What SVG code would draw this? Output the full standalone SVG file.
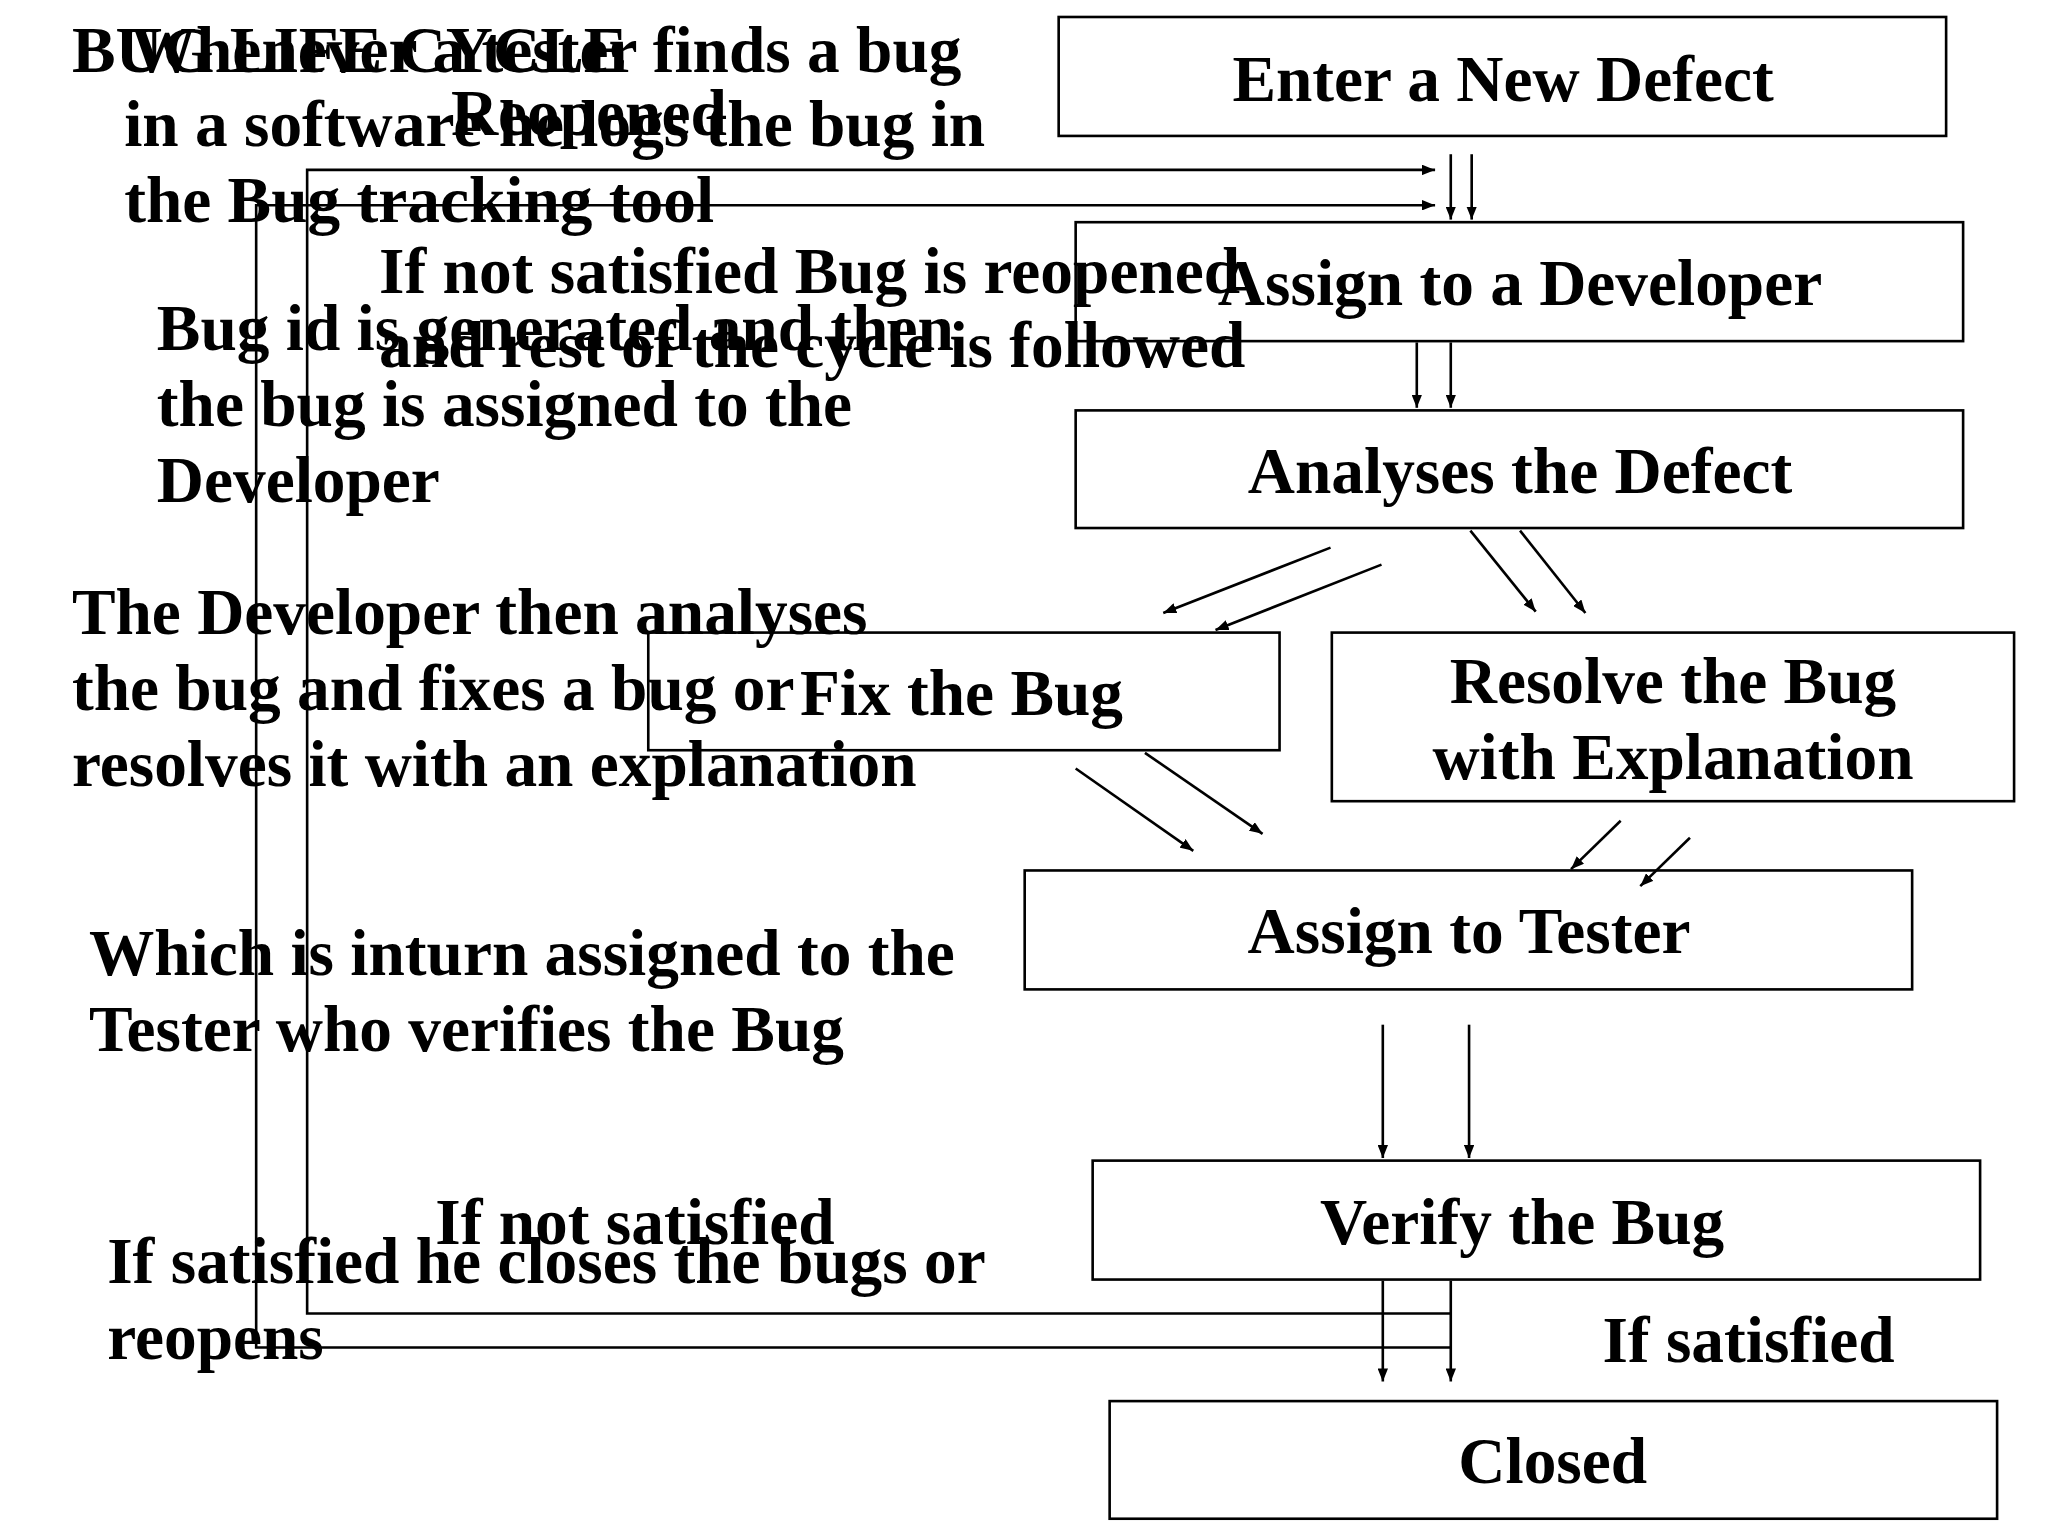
<svg xmlns="http://www.w3.org/2000/svg" width="2048" height="1536" viewBox="0 0 2048 1536">
<style>
text{font-family:"Liberation Serif","Times New Roman",serif;font-weight:bold;font-size:50px;fill:#000}
.c{text-anchor:middle}
rect{fill:#fff;stroke:#000;stroke-width:2}
line,polyline{stroke:#000;stroke-width:2;fill:none}
</style>
<defs><marker id="a" markerWidth="10" markerHeight="8" refX="10" refY="4" orient="auto" markerUnits="userSpaceOnUse"><path d="M0,0L10,4L0,8z" fill="#000"/></marker></defs>
<rect x="0" y="0" width="2048" height="1536" style="stroke:none"/>
<g transform="scale(1.307)">
<g id="n1"><rect x="810" y="13" width="679" height="91"/><text class="c" x="1150" y="77">Enter a New Defect</text></g>
<g id="n2"><rect x="823" y="170" width="679" height="91"/><text class="c" x="1163" y="233">Assign to a Developer</text></g>
<g id="n3"><rect x="823" y="314" width="679" height="90"/><text class="c" x="1163" y="377">Analyses the Defect</text></g>
<g id="n4"><rect x="496" y="484" width="483" height="90"/><text x="612" y="547">Fix the Bug</text></g>
<g id="n5"><rect x="1019" y="484" width="522" height="129"/><text class="c" x="1280" y="538">Resolve the Bug</text><text class="c" x="1280" y="596">with Explanation</text></g>
<g id="n6"><rect x="784" y="666" width="679" height="91"/><text class="c" x="1124" y="729">Assign to Tester</text></g>
<g id="n7"><rect x="836" y="888" width="679" height="91"/><text x="1010" y="952">Verify  the Bug</text></g>
<g id="n8"><rect x="849" y="1072" width="679" height="90"/><text class="c" x="1188" y="1135">Closed</text></g>
<g id="connectors">
<polyline points="1110,1005 235,1005 235,130 1098,130" marker-end="url(#a)"/>
<polyline points="1110,1031 196,1031 196,157 1098,157" marker-end="url(#a)"/>
<line x1="1110" y1="118" x2="1110" y2="168" marker-end="url(#a)"/>
<line x1="1126" y1="118" x2="1126" y2="168" marker-end="url(#a)"/>
<line x1="1084" y1="262" x2="1084" y2="312" marker-end="url(#a)"/>
<line x1="1110" y1="262" x2="1110" y2="312" marker-end="url(#a)"/>
<line x1="1018" y1="419" x2="890" y2="469" marker-end="url(#a)"/>
<line x1="1057" y1="432" x2="930" y2="482" marker-end="url(#a)"/>
<line x1="1125" y1="406" x2="1175" y2="468" marker-end="url(#a)"/>
<line x1="1163" y1="406" x2="1213" y2="469" marker-end="url(#a)"/>
<line x1="823" y1="588" x2="913" y2="651" marker-end="url(#a)"/>
<line x1="876" y1="576" x2="966" y2="638" marker-end="url(#a)"/>
<line x1="1240" y1="628" x2="1202" y2="665" marker-end="url(#a)"/>
<line x1="1293" y1="641" x2="1255" y2="678" marker-end="url(#a)"/>
<line x1="1058" y1="784" x2="1058" y2="886" marker-end="url(#a)"/>
<line x1="1124" y1="784" x2="1124" y2="886" marker-end="url(#a)"/>
<line x1="1058" y1="980" x2="1058" y2="1057" marker-end="url(#a)"/>
<line x1="1110" y1="980" x2="1110" y2="1057" marker-end="url(#a)"/>
</g>
<g id="labels">
<text x="55" y="55">BUG LIFE CYCLE</text>
<text x="100" y="55">Whenever a tester finds a bug</text>
<text x="95" y="112">in a software he logs the bug in</text>
<text x="95" y="170">the Bug tracking tool</text>
<text x="345" y="103">Reopened</text>
<text x="290" y="224">If not satisfied Bug is reopened</text>
<text x="290" y="281">and rest of the cycle is followed</text>
<text x="120" y="268">Bug id is generated and then</text>
<text x="120" y="326">the bug is assigned to the</text>
<text x="120" y="384">Developer</text>
<text x="55" y="485">The Developer  then analyses</text>
<text x="55" y="543">the bug and fixes a bug or</text>
<text x="55" y="601">resolves it with an explanation</text>
<text x="68" y="746">Which is inturn assigned to the</text>
<text x="68" y="804">Tester who verifies the Bug</text>
<text x="333" y="952">If not satisfied</text>
<text x="82" y="982">If satisfied he closes the bugs or</text>
<text x="82" y="1040">reopens</text>
<text x="1226" y="1042">If satisfied</text>
</g>
</g>
</svg>
